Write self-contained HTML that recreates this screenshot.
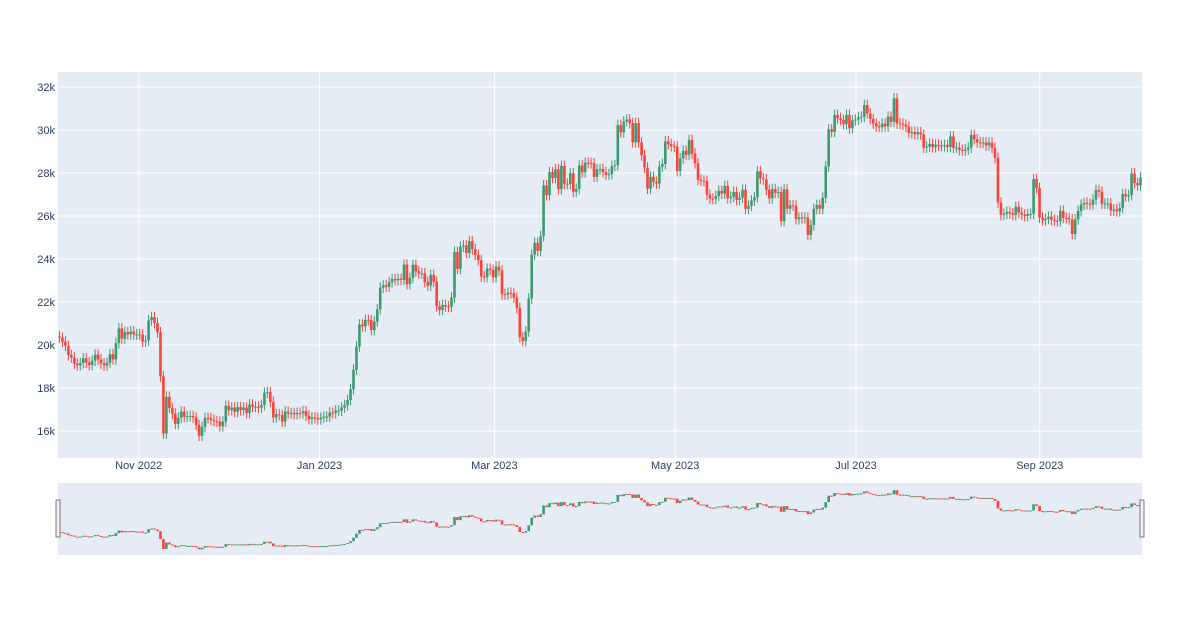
<!DOCTYPE html>
<html><head><meta charset="utf-8"><style>
body{margin:0;background:#fff;font-family:"Liberation Sans",Arial,sans-serif}
svg text{font-family:"Liberation Sans",Arial,sans-serif;font-size:11px;fill:#2a3f5f}
</style></head><body>
<svg id="chart" width="1200" height="613" xmlns="http://www.w3.org/2000/svg">
<rect x="58" y="72" width="1084" height="386" fill="#e5ecf6"/>
<g id="grid"></g><g id="candles"></g><g id="ticks"></g>
<rect x="58" y="483" width="1084" height="72" fill="#e5ecf6"/>
<g id="mini"></g>
<rect x="56" y="500" width="4" height="37" fill="#f2f2f2" stroke="#777"/>
<rect x="1140" y="500" width="4" height="37" fill="#f2f2f2" stroke="#777"/>
</svg>
<script>
const closes=[20340,20160,19960,19530,19420,19130,19060,19160,19380,19190,19070,19270,19550,19330,19140,19050,19170,19570,19330,20090,20770,20290,20600,20500,20630,20490,20490,
20480,20160,20210,21150,21300,21020,20590,18540,15880,17590,17070,16810,16330,16620,16900,16660,16690,16700,16630,16280,15780,16190,16610,16600,16520,16460,16440,16220,16440,17170,
16970,17090,16890,17110,16970,17090,16840,17230,17130,17130,17090,17210,17780,17810,17360,16630,16780,16740,16440,16900,16820,16830,16780,16840,16830,16920,16710,16550,16630,16600,16540,
16620,16670,16670,16850,16830,16950,16950,17090,17200,17440,17940,18850,19930,20950,20870,21170,21160,20690,21090,21660,22670,22780,22710,22920,23070,23010,23080,23030,23740,22830,23130,
23730,23430,23330,23330,22930,22760,23260,22940,21800,21630,21860,21790,21780,22200,24330,23540,24570,24630,24280,24830,24460,24190,23950,23190,23160,23550,23490,23150,
23650,23470,22360,22350,22430,22410,22200,21720,20360,20190,20630,22160,24200,24750,24380,25060,27420,26970,28040,27770,28170,27250,28330,27500,27490,27990,27130,27260,28350,28030,28480,
28470,28450,27820,28170,28180,28040,27920,27950,28330,28360,30230,29890,30400,30490,30320,29430,30320,29430,28820,28250,27270,27820,27590,27510,28300,28420,29470,29340,29250,29230,
28090,28680,29030,28850,29530,28900,28450,27690,27640,27620,26990,26810,26790,26930,27170,27040,27400,26830,26890,27120,26750,26850,27220,26330,26470,26720,26870,28080,27750,27700,27220,
26820,27250,27080,27120,25760,27240,26340,26500,26480,25850,25940,25900,25930,25120,25580,26330,26510,26340,26850,28310,30030,29910,30700,30550,30470,30270,30700,30080,30450,30480,
30590,30620,31160,30770,30510,30300,30170,30140,30290,30170,30620,30380,31470,30310,30290,30250,30150,29860,29910,29800,29900,29790,29180,29230,29350,29200,29320,29280,29250,29300,29210,
29700,29170,29180,29070,29050,29090,29180,29770,29570,29430,29400,29420,29280,29410,29170,28700,26630,26050,26100,26190,26120,26050,26430,26160,26060,26000,26090,26100,27720,27300,25930,
25800,25870,25970,25820,25780,25760,26240,25910,25900,25840,25160,25840,26230,26530,26610,26570,26530,26760,27210,27130,26570,26580,26580,26250,26300,26220,26370,27020,26910,26970,
27980,27530,27430,27790];
const firstOpen=20400;
const wick=250;
const yTicks=[16000,18000,20000,22000,24000,26000,28000,30000,32000];
const yTickLabels=["16k","18k","20k","22k","24k","26k","28k","30k","32k"];
const xTickDays=[27,88,147,208,269,331];
const xTickLabels=["Nov 2022","Jan 2023","Mar 2023","May 2023","Jul 2023","Sep 2023"];
const NS="http://www.w3.org/2000/svg";
const N=closes.length;
const xs=d=>58+(d+0.5)*1084/N;
const ys=v=>87+(32000-v)*43/2000;
const ym=v=>550-(v-15600)/16200*61;
function mk(tag,attrs,parent){const e=document.createElementNS(NS,tag);for(const k in attrs)e.setAttribute(k,attrs[k]);document.getElementById(parent).appendChild(e);return e;}
yTicks.forEach((t,i)=>{
 const l=mk('line',{x1:58,x2:1142,y1:ys(t),y2:ys(t),stroke:'#fff','stroke-width':1},'grid');
 
 
 const tx=mk('text',{x:55,y:ys(t)+4,'text-anchor':'end'},'ticks');tx.textContent=yTickLabels[i];
 
 
});
xTickDays.forEach((d,i)=>{
 const x=58+d*1084/N+0.5-i*0.35;
 const l=mk('line',{x1:x,x2:x,y1:72,y2:458,stroke:'#fff','stroke-width':1},'grid');
 
 
 const tx=mk('text',{x:x,y:469,'text-anchor':'middle'},'ticks');tx.textContent=xTickLabels[i];
 
 
});
for(let i=0;i<N;i++){
 const o=i?closes[i-1]:firstOpen,c=closes[i];
 const hi=Math.max(o,c)+wick,lo=Math.min(o,c)-wick;
 const col=c>=o?'#3D9970':'#FF4136';
 const x=xs(i);
 const g=mk('g',{},'candles');
 
 
 const w=document.createElementNS(NS,'line');
 w.setAttribute('x1',x);w.setAttribute('x2',x);w.setAttribute('y1',ys(hi));w.setAttribute('y2',ys(lo));w.setAttribute('stroke',col);w.setAttribute('stroke-width',1);g.appendChild(w);
 const r=document.createElementNS(NS,'rect');
 const t=ys(Math.max(o,c)),b=ys(Math.min(o,c));
 r.setAttribute('x',x-1.3);r.setAttribute('width',2.6);r.setAttribute('y',t);r.setAttribute('height',Math.max(1,b-t));r.setAttribute('fill',col);g.appendChild(r);
 const m=mk('rect',{x:x-1.3,width:2.6,y:ym(Math.max(o,c)),height:Math.max(1,ym(Math.min(o,c))-ym(Math.max(o,c))),fill:col},'mini');
 
 
}
</script>
</body></html>
